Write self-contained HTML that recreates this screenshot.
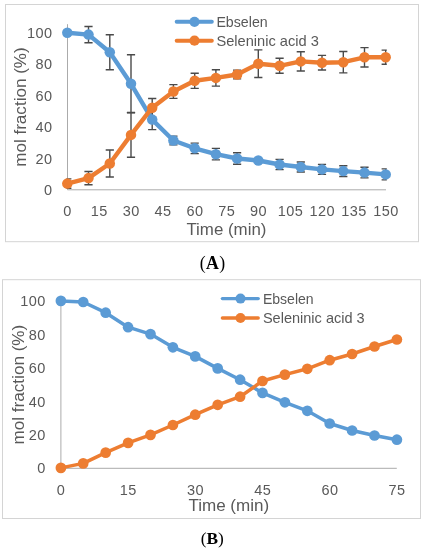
<!DOCTYPE html>
<html><head><meta charset="utf-8"><title>Figure</title>
<style>
html,body{margin:0;padding:0;background:#fff;}
body{width:424px;height:550px;overflow:hidden;}
svg{display:block;}
.t{font-family:"Liberation Sans",sans-serif;font-size:14.5px;fill:#595959;}
.k{letter-spacing:0.45px;}
.a{font-family:"Liberation Sans",sans-serif;font-size:16px;fill:#595959;}
.c{font-family:"Liberation Serif",serif;font-size:17.3px;fill:#000;}
</style></head><body>
<svg width="424" height="550" viewBox="0 0 424 550">
<rect width="424" height="550" fill="#fff"/>
<rect x="5.5" y="4.5" width="413" height="237.2" fill="#fff" stroke="#d4d4d4" stroke-width="1"/>
<path d="M67.5 24.2V189.8H386" stroke="#ababab" stroke-width="1" fill="none"/>
<text x="52.5" y="195.0" text-anchor="end" class="t k">0</text>
<text x="52.5" y="163.6" text-anchor="end" class="t k">20</text>
<text x="52.5" y="132.1" text-anchor="end" class="t k">40</text>
<text x="52.5" y="100.7" text-anchor="end" class="t k">60</text>
<text x="52.5" y="69.3" text-anchor="end" class="t k">80</text>
<text x="52.5" y="37.9" text-anchor="end" class="t k">100</text>
<text x="67.5" y="216.15" text-anchor="middle" class="t k">0</text>
<text x="99.3" y="216.15" text-anchor="middle" class="t k">15</text>
<text x="131.2" y="216.15" text-anchor="middle" class="t k">30</text>
<text x="163.0" y="216.15" text-anchor="middle" class="t k">45</text>
<text x="194.9" y="216.15" text-anchor="middle" class="t k">60</text>
<text x="226.7" y="216.15" text-anchor="middle" class="t k">75</text>
<text x="258.5" y="216.15" text-anchor="middle" class="t k">90</text>
<text x="290.4" y="216.15" text-anchor="middle" class="t k">105</text>
<text x="322.2" y="216.15" text-anchor="middle" class="t k">120</text>
<text x="354.1" y="216.15" text-anchor="middle" class="t k">135</text>
<text x="385.9" y="216.15" text-anchor="middle" class="t k">150</text>
<text x="186.4" y="234.5" class="a" textLength="80" lengthAdjust="spacingAndGlyphs">Time (min)</text>
<text transform="translate(26,166.8) rotate(-90)" class="a" textLength="119.5" lengthAdjust="spacingAndGlyphs">mol fraction (%)</text>
<clipPath id="ca"><rect x="66.4" y="20" width="320.4" height="175"/></clipPath>
<path d="M88.5 26.5V42.7M84.4 26.5h8.2M84.4 42.7h8.2M109.8 34.8V69.8M105.7 34.8h8.2M105.7 69.8h8.2M131.0 54.8V112.8M126.9 54.8h8.2M126.9 112.8h8.2M152.2 109.6V129.6M148.1 109.6h8.2M148.1 129.6h8.2M173.4 136.1V144.9M169.3 136.1h8.2M169.3 144.9h8.2M194.7 143.1V153.6M190.6 143.1h8.2M190.6 153.6h8.2M215.9 148.4V159.9M211.8 148.4h8.2M211.8 159.9h8.2M237.1 152.8V164.2M233.0 152.8h8.2M233.0 164.2h8.2M279.6 159.4V169.6M275.5 159.4h8.2M275.5 169.6h8.2M300.8 162.0V172.0M296.7 162.0h8.2M296.7 172.0h8.2M322.0 164.4V174.4M317.9 164.4h8.2M317.9 174.4h8.2M343.3 165.7V176.5M339.2 165.7h8.2M339.2 176.5h8.2M364.5 167.3V177.9M360.4 167.3h8.2M360.4 177.9h8.2M385.7 168.9V179.9M381.6 168.9h8.2M381.6 179.9h8.2" stroke="#4a4a4a" stroke-width="1.4" fill="none" clip-path="url(#ca)"/>
<path d="M67.3 178.9V188.3M63.2 178.9h8.2M63.2 188.3h8.2M88.5 171.5V184.7M84.4 171.5h8.2M84.4 184.7h8.2M109.8 150.0V177.0M105.7 150.0h8.2M105.7 177.0h8.2M131.0 112.5V157.3M126.9 112.5h8.2M126.9 157.3h8.2M152.2 98.5V116.9M148.1 98.5h8.2M148.1 116.9h8.2M173.4 84.6V98.4M169.3 84.6h8.2M169.3 98.4h8.2M194.7 73.2V88.4M190.6 73.2h8.2M190.6 88.4h8.2M215.9 69.8V86.1M211.8 69.8h8.2M211.8 86.1h8.2M237.1 70.1V78.9M233.0 70.1h8.2M233.0 78.9h8.2M258.3 49.9V77.5M254.2 49.9h8.2M254.2 77.5h8.2M279.6 58.3V73.2M275.5 58.3h8.2M275.5 73.2h8.2M300.8 51.8V71.0M296.7 51.8h8.2M296.7 71.0h8.2M322.0 55.4V70.0M317.9 55.4h8.2M317.9 70.0h8.2M343.3 51.5V72.9M339.2 51.5h8.2M339.2 72.9h8.2M364.5 47.6V67.0M360.4 47.6h8.2M360.4 67.0h8.2M385.7 50.1V64.3M381.6 50.1h8.2M381.6 64.3h8.2" stroke="#4a4a4a" stroke-width="1.4" fill="none" clip-path="url(#ca)"/>
<polyline points="67.3,32.7 88.5,34.6 109.8,52.3 131.0,83.8 152.2,119.6 173.4,140.5 194.7,148.3 215.9,154.2 237.1,158.5 258.3,160.5 279.6,164.5 300.8,167.0 322.0,169.4 343.3,171.1 364.5,172.6 385.7,174.4" fill="none" stroke="#5b9bd5" stroke-width="4.4" stroke-linejoin="round" stroke-linecap="round"/>
<circle cx="67.3" cy="32.7" r="5.25" fill="#5b9bd5"/>
<circle cx="88.5" cy="34.6" r="5.25" fill="#5b9bd5"/>
<circle cx="109.8" cy="52.3" r="5.25" fill="#5b9bd5"/>
<circle cx="131.0" cy="83.8" r="5.25" fill="#5b9bd5"/>
<circle cx="152.2" cy="119.6" r="5.25" fill="#5b9bd5"/>
<circle cx="173.4" cy="140.5" r="5.25" fill="#5b9bd5"/>
<circle cx="194.7" cy="148.3" r="5.25" fill="#5b9bd5"/>
<circle cx="215.9" cy="154.2" r="5.25" fill="#5b9bd5"/>
<circle cx="237.1" cy="158.5" r="5.25" fill="#5b9bd5"/>
<circle cx="258.3" cy="160.5" r="5.25" fill="#5b9bd5"/>
<circle cx="279.6" cy="164.5" r="5.25" fill="#5b9bd5"/>
<circle cx="300.8" cy="167.0" r="5.25" fill="#5b9bd5"/>
<circle cx="322.0" cy="169.4" r="5.25" fill="#5b9bd5"/>
<circle cx="343.3" cy="171.1" r="5.25" fill="#5b9bd5"/>
<circle cx="364.5" cy="172.6" r="5.25" fill="#5b9bd5"/>
<circle cx="385.7" cy="174.4" r="5.25" fill="#5b9bd5"/>
<polyline points="67.3,183.6 88.5,178.1 109.8,163.5 131.0,134.9 152.2,107.7 173.4,91.5 194.7,80.8 215.9,77.9 237.1,74.5 258.3,63.7 279.6,65.8 300.8,61.4 322.0,62.7 343.3,62.2 364.5,57.3 385.7,57.2" fill="none" stroke="#ed7d31" stroke-width="4.4" stroke-linejoin="round" stroke-linecap="round"/>
<circle cx="67.3" cy="183.6" r="5.25" fill="#ed7d31"/>
<circle cx="88.5" cy="178.1" r="5.25" fill="#ed7d31"/>
<circle cx="109.8" cy="163.5" r="5.25" fill="#ed7d31"/>
<circle cx="131.0" cy="134.9" r="5.25" fill="#ed7d31"/>
<circle cx="152.2" cy="107.7" r="5.25" fill="#ed7d31"/>
<circle cx="173.4" cy="91.5" r="5.25" fill="#ed7d31"/>
<circle cx="194.7" cy="80.8" r="5.25" fill="#ed7d31"/>
<circle cx="215.9" cy="77.9" r="5.25" fill="#ed7d31"/>
<circle cx="237.1" cy="74.5" r="5.25" fill="#ed7d31"/>
<circle cx="258.3" cy="63.7" r="5.25" fill="#ed7d31"/>
<circle cx="279.6" cy="65.8" r="5.25" fill="#ed7d31"/>
<circle cx="300.8" cy="61.4" r="5.25" fill="#ed7d31"/>
<circle cx="322.0" cy="62.7" r="5.25" fill="#ed7d31"/>
<circle cx="343.3" cy="62.2" r="5.25" fill="#ed7d31"/>
<circle cx="364.5" cy="57.3" r="5.25" fill="#ed7d31"/>
<circle cx="385.7" cy="57.2" r="5.25" fill="#ed7d31"/>
<line x1="176.7" y1="21.8" x2="211.8" y2="21.8" stroke="#5b9bd5" stroke-width="4" stroke-linecap="round"/>
<circle cx="194.5" cy="21.8" r="5.1" fill="#5b9bd5"/>
<text x="216.4" y="26.8" class="t" textLength="51.3" lengthAdjust="spacingAndGlyphs">Ebselen</text>
<line x1="176.7" y1="40.7" x2="211.8" y2="40.7" stroke="#ed7d31" stroke-width="4" stroke-linecap="round"/>
<circle cx="194.5" cy="40.7" r="5.1" fill="#ed7d31"/>
<text x="216.4" y="45.7" class="t" textLength="102.5" lengthAdjust="spacingAndGlyphs">Seleninic acid 3</text>
<text x="212.6" y="268.8" text-anchor="middle" class="c" style="font-size:17.8px;letter-spacing:0.4px">(<tspan font-weight="bold">A</tspan>)</text>
<rect x="2.5" y="279.7" width="418" height="238.8" fill="#fff" stroke="#d4d4d4" stroke-width="1"/>
<path d="M60.9 300.9V468.3H396.8" stroke="#ababab" stroke-width="1" fill="none"/>
<text x="45.8" y="473.3" text-anchor="end" class="t k">0</text>
<text x="45.8" y="439.9" text-anchor="end" class="t k">20</text>
<text x="45.8" y="406.5" text-anchor="end" class="t k">40</text>
<text x="45.8" y="373.0" text-anchor="end" class="t k">60</text>
<text x="45.8" y="339.6" text-anchor="end" class="t k">80</text>
<text x="45.8" y="306.2" text-anchor="end" class="t k">100</text>
<text x="61.1" y="494.8" text-anchor="middle" class="t k">0</text>
<text x="128.2" y="494.8" text-anchor="middle" class="t k">15</text>
<text x="195.4" y="494.8" text-anchor="middle" class="t k">30</text>
<text x="262.7" y="494.8" text-anchor="middle" class="t k">45</text>
<text x="329.9" y="494.8" text-anchor="middle" class="t k">60</text>
<text x="397.1" y="494.8" text-anchor="middle" class="t k">75</text>
<text x="188.4" y="511.4" class="a" textLength="80.8" lengthAdjust="spacingAndGlyphs">Time (min)</text>
<text transform="translate(23.6,444.4) rotate(-90)" class="a" textLength="119.6" lengthAdjust="spacingAndGlyphs">mol fraction (%)</text>
<polyline points="60.9,300.9 83.2,302.0 105.7,312.7 128.1,327.2 150.5,334.1 172.9,347.3 195.2,356.4 217.7,368.4 240.1,379.7 262.5,392.9 284.9,402.3 307.3,410.8 329.7,423.5 352.1,430.5 374.5,435.5 396.9,439.7" fill="none" stroke="#5b9bd5" stroke-width="3.5" stroke-linejoin="round" stroke-linecap="round"/>
<circle cx="60.9" cy="300.9" r="5.35" fill="#5b9bd5"/>
<circle cx="83.2" cy="302.0" r="5.35" fill="#5b9bd5"/>
<circle cx="105.7" cy="312.7" r="5.35" fill="#5b9bd5"/>
<circle cx="128.1" cy="327.2" r="5.35" fill="#5b9bd5"/>
<circle cx="150.5" cy="334.1" r="5.35" fill="#5b9bd5"/>
<circle cx="172.9" cy="347.3" r="5.35" fill="#5b9bd5"/>
<circle cx="195.2" cy="356.4" r="5.35" fill="#5b9bd5"/>
<circle cx="217.7" cy="368.4" r="5.35" fill="#5b9bd5"/>
<circle cx="240.1" cy="379.7" r="5.35" fill="#5b9bd5"/>
<circle cx="262.5" cy="392.9" r="5.35" fill="#5b9bd5"/>
<circle cx="284.9" cy="402.3" r="5.35" fill="#5b9bd5"/>
<circle cx="307.3" cy="410.8" r="5.35" fill="#5b9bd5"/>
<circle cx="329.7" cy="423.5" r="5.35" fill="#5b9bd5"/>
<circle cx="352.1" cy="430.5" r="5.35" fill="#5b9bd5"/>
<circle cx="374.5" cy="435.5" r="5.35" fill="#5b9bd5"/>
<circle cx="396.9" cy="439.7" r="5.35" fill="#5b9bd5"/>
<polyline points="60.9,467.9 83.2,463.4 105.7,452.6 128.1,442.9 150.5,434.9 172.9,425.0 195.2,414.7 217.7,404.8 240.1,396.7 262.5,381.0 284.9,374.6 307.3,368.8 329.7,360.2 352.1,354.0 374.5,346.5 396.9,339.5" fill="none" stroke="#ed7d31" stroke-width="3.5" stroke-linejoin="round" stroke-linecap="round"/>
<circle cx="60.9" cy="467.9" r="5.35" fill="#ed7d31"/>
<circle cx="83.2" cy="463.4" r="5.35" fill="#ed7d31"/>
<circle cx="105.7" cy="452.6" r="5.35" fill="#ed7d31"/>
<circle cx="128.1" cy="442.9" r="5.35" fill="#ed7d31"/>
<circle cx="150.5" cy="434.9" r="5.35" fill="#ed7d31"/>
<circle cx="172.9" cy="425.0" r="5.35" fill="#ed7d31"/>
<circle cx="195.2" cy="414.7" r="5.35" fill="#ed7d31"/>
<circle cx="217.7" cy="404.8" r="5.35" fill="#ed7d31"/>
<circle cx="240.1" cy="396.7" r="5.35" fill="#ed7d31"/>
<circle cx="262.5" cy="381.0" r="5.35" fill="#ed7d31"/>
<circle cx="284.9" cy="374.6" r="5.35" fill="#ed7d31"/>
<circle cx="307.3" cy="368.8" r="5.35" fill="#ed7d31"/>
<circle cx="329.7" cy="360.2" r="5.35" fill="#ed7d31"/>
<circle cx="352.1" cy="354.0" r="5.35" fill="#ed7d31"/>
<circle cx="374.5" cy="346.5" r="5.35" fill="#ed7d31"/>
<circle cx="396.9" cy="339.5" r="5.35" fill="#ed7d31"/>
<line x1="222.4" y1="298.6" x2="258.2" y2="298.6" stroke="#5b9bd5" stroke-width="3.4" stroke-linecap="round"/>
<circle cx="240.5" cy="298.6" r="5" fill="#5b9bd5"/>
<text x="262.9" y="303.7" class="t" textLength="50.8" lengthAdjust="spacingAndGlyphs">Ebselen</text>
<line x1="222.4" y1="318.0" x2="258.2" y2="318.0" stroke="#ed7d31" stroke-width="3.4" stroke-linecap="round"/>
<circle cx="240.5" cy="318.0" r="5" fill="#ed7d31"/>
<text x="262.9" y="323.1" class="t" textLength="101.8" lengthAdjust="spacingAndGlyphs">Seleninic acid 3</text>
<text x="212.2" y="544.3" text-anchor="middle" class="c">(<tspan font-weight="bold">B</tspan>)</text>
</svg>
</body></html>
